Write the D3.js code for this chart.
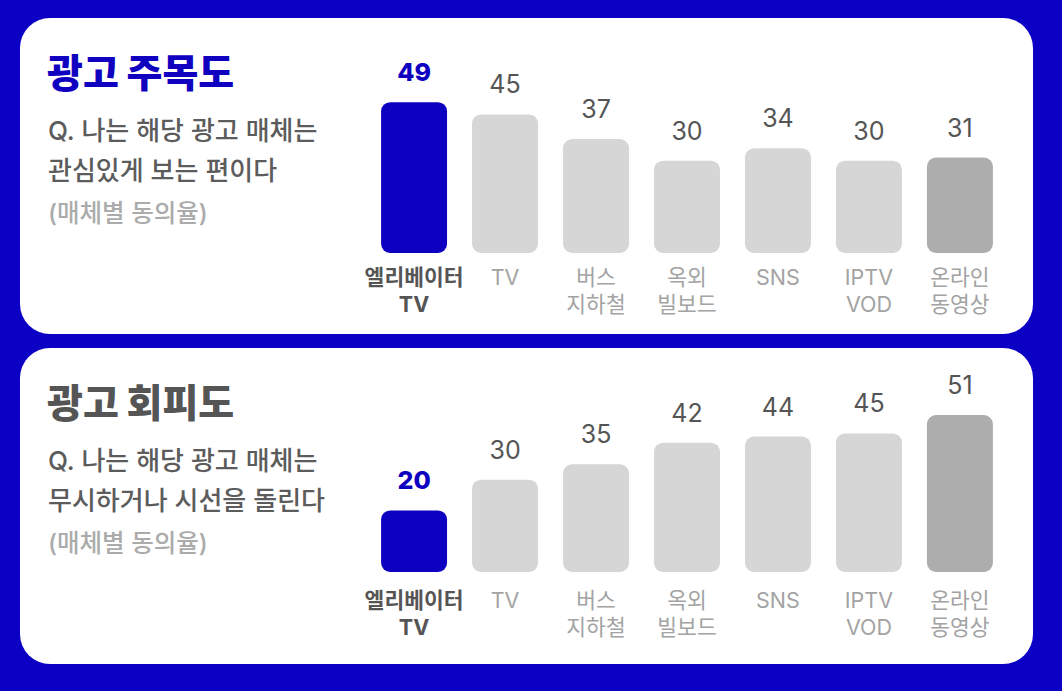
<!DOCTYPE html>
<html>
<head>
<meta charset="utf-8">
<script src="https://cdn.jsdelivr.net/npm/d3@7"></script>
<style>
  body { margin: 0; background: #0c00c4; }
  svg { display: block; font-family: "Inter", "Noto Sans CJK KR", sans-serif; }
</style>
</head>
<body>
<svg id="chart" width="1062" height="691"></svg>
<script>
const svg = d3.select("#chart");
const width = +svg.attr("width");
const height = +svg.attr("height");

// categories (two-line labels)
const categories = ["엘리베이터\nTV", "TV", "버스\n지하철", "옥외\n빌보드", "SNS", "IPTV\nVOD", "온라인\n동영상"];
// 광고 주목도
const attentionValues = [49, 45, 37, 30, 34, 30, 31];
// 광고 회피도
const avoidanceValues = [20, 30, 35, 42, 44, 45, 51];

const panels = [
  { title: "광고 주목도", titleColor: "#1000c0", lines: ["Q. 나는 해당 광고 매체는", "관심있게 보는 편이다"], values: attentionValues, top: 18, base: 235, labelGap: 32 },
  { title: "광고 회피도", titleColor: "#555555", lines: ["Q. 나는 해당 광고 매체는", "무시하거나 시선을 돌린다"], values: avoidanceValues, top: 348, base: 224, labelGap: 36 }
];

const blue = "#0e00c0";
const barColor = (i) => i === 0 ? blue : (i === categories.length - 1 ? "#adadad" : "#d6d6d6");

const x = d3.scaleBand()
  .domain(categories)
  .range([372, 1002])
  .paddingInner(0.275)
  .paddingOuter(0.1);

const y = d3.scaleLinear().domain([0, 51]).range([0, 157]);

svg.append("rect").attr("width", width).attr("height", height).attr("fill", "#0c00c4");

panels.forEach(p => {
  const g = svg.append("g").attr("transform", `translate(0,${p.top})`);
  g.append("rect")
    .attr("x", 20).attr("y", 0)
    .attr("width", 1013).attr("height", 316)
    .attr("rx", 30).attr("fill", "#fff");

  g.append("text").attr("x", 47).attr("y", 69)
    .attr("font-size", 39).attr("font-weight", 900)
    .attr("fill", p.titleColor).text(p.title);

  p.lines.forEach((l, i) => {
    g.append("text").attr("x", 48).attr("y", 122 + i * 40)
      .attr("font-size", 26).attr("font-weight", 500)
      .attr("fill", "#5c5c5c").text(l);
  });
  g.append("text").attr("x", 48).attr("y", 204)
    .attr("font-size", 24.5).attr("font-weight", 500)
    .attr("fill", "#ababab").text("(매체별 동의율)");

  const base = p.base;

  g.selectAll("rect.bar").data(p.values).join("rect")
    .attr("class", "bar")
    .attr("x", (d, i) => x(categories[i]))
    .attr("y", d => base - y(d))
    .attr("width", x.bandwidth())
    .attr("height", d => y(d))
    .attr("rx", 9)
    .attr("fill", (d, i) => barColor(i));

  g.selectAll("text.val").data(p.values).join("text")
    .attr("class", "val")
    .attr("x", (d, i) => x(categories[i]) + x.bandwidth() / 2)
    .attr("y", d => base - y(d) - 21)
    .attr("text-anchor", "middle")
    .attr("font-size", 25)
    .attr("font-weight", (d, i) => i === 0 ? 800 : 400)
    .attr("fill", (d, i) => i === 0 ? blue : "#555")
    .text(d => d);

  const labels = g.selectAll("text.cat").data(categories).join("text")
    .attr("class", "cat")
    .attr("x", d => x(d) + x.bandwidth() / 2)
    .attr("y", base + p.labelGap)
    .attr("text-anchor", "middle")
    .attr("font-size", 21.5)
    .attr("font-weight", (d, i) => i === 0 ? 700 : 400)
    .attr("fill", (d, i) => i === 0 ? "#555" : "#a3a3a3");
  labels.selectAll("tspan").data(d => d.split("\n")).join("tspan")
    .attr("x", function() { return d3.select(this.parentNode).attr("x"); })
    .attr("dy", (d, i) => i === 0 ? 0 : 27)
    .text(d => d);
});
</script>
</body>
</html>
